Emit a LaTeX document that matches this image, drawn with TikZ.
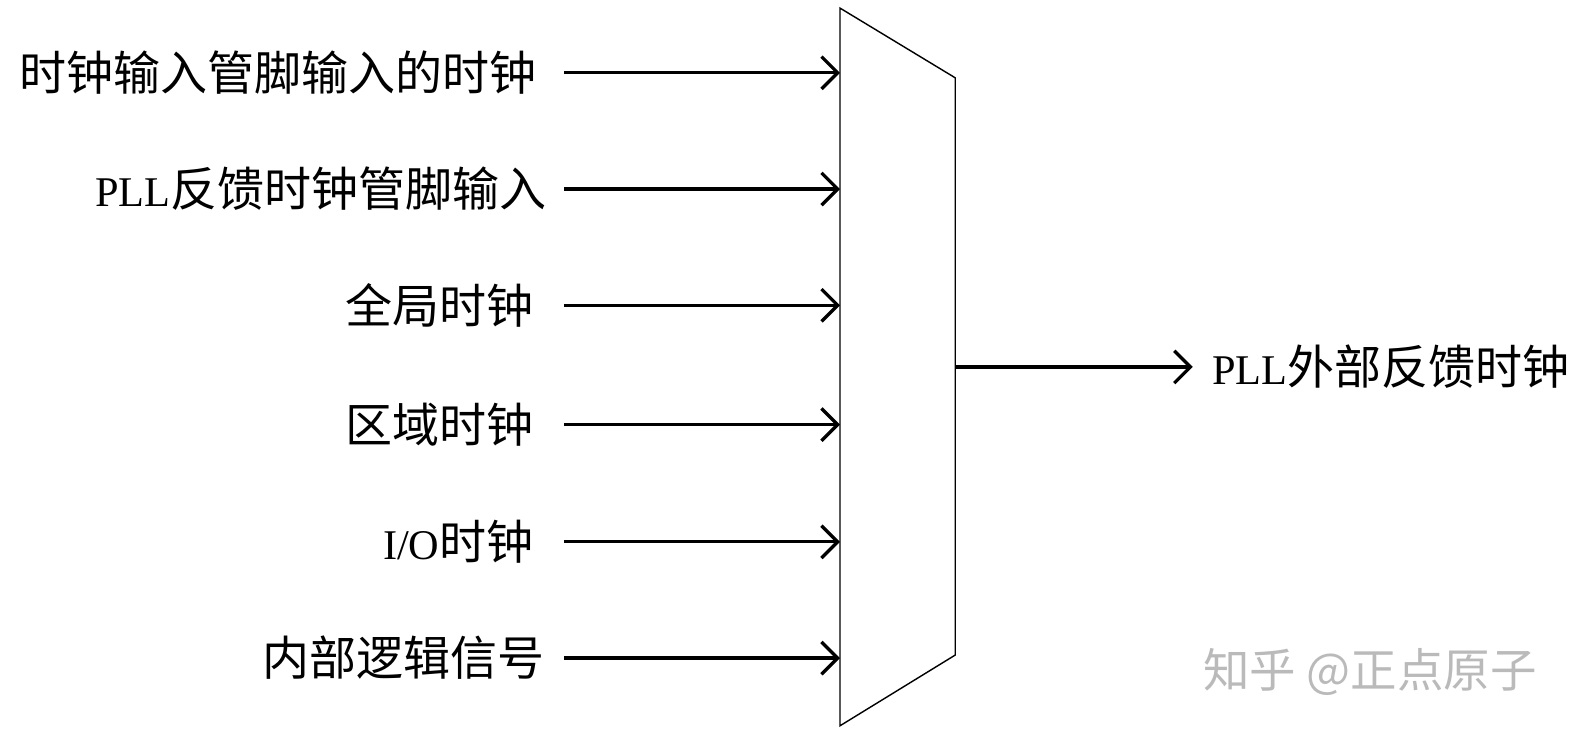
\documentclass[tikz,border=0pt]{standalone}
\usepackage{fontspec}
\setmainfont{Liberation Serif}[Scale=0.9]
\newfontfamily\cjk{Noto Sans CJK SC}
\usetikzlibrary{arrows.meta}
\tikzset{
  lbl/.style={anchor=east, inner sep=0pt, font=\fontsize{46.5}{52}\selectfont},
  inarrow/.style={line width=3.3pt, -{Straight Barb[length=16pt,width=32pt,line width=3.3pt]}},
  muxline/.style={line width=1.4pt, line join=miter},
  wm/.style={anchor=west, inner sep=0pt, text=black!27, font=\fontsize{46}{52}\selectfont\cjk}
}
\begin{document}
\begin{tikzpicture}[x=1pt,y=-1pt]
\useasboundingbox (0,0) rectangle (1569,729);
% mux
\coordinate (m1) at (831,8);
\coordinate (m2) at (945,77);
\coordinate (m3) at (945,648);
\coordinate (m4) at (831,718);
\draw[muxline] (m1) -- (m2) -- (m3) -- (m4) -- cycle;
% inputs
\foreach \i/\y/\ex/\t in {1/72/531/{\cjk 时钟输入管脚输入的时钟},
                          2/187/541/{PLL\cjk 反馈时钟管脚输入},
                          3/302/528/{\cjk 全局时钟},
                          4/420/528/{\cjk 区域时钟},
                          5/536/528/{I/O\cjk 时钟},
                          6/651/539/{\cjk 内部逻辑信号}}{
  \node[lbl] (l\i) at (\ex,\y) {\t};
  \coordinate (s\i) at (558,\y);
  \coordinate (e\i) at (831,\y);
  \draw[inarrow] (s\i) -- (e\i);
}
% output
\coordinate (o1) at (945,363);
\node[lbl, anchor=west] (out) at (1199,363) {PLL\cjk 外部反馈时钟};
\coordinate (o2) at (1180,363);
\draw[inarrow] (o1) -- (o2);
% watermark
\node[wm] (wmk) at (1190,665) {知乎 @正点原子};
\end{tikzpicture}
\end{document}
